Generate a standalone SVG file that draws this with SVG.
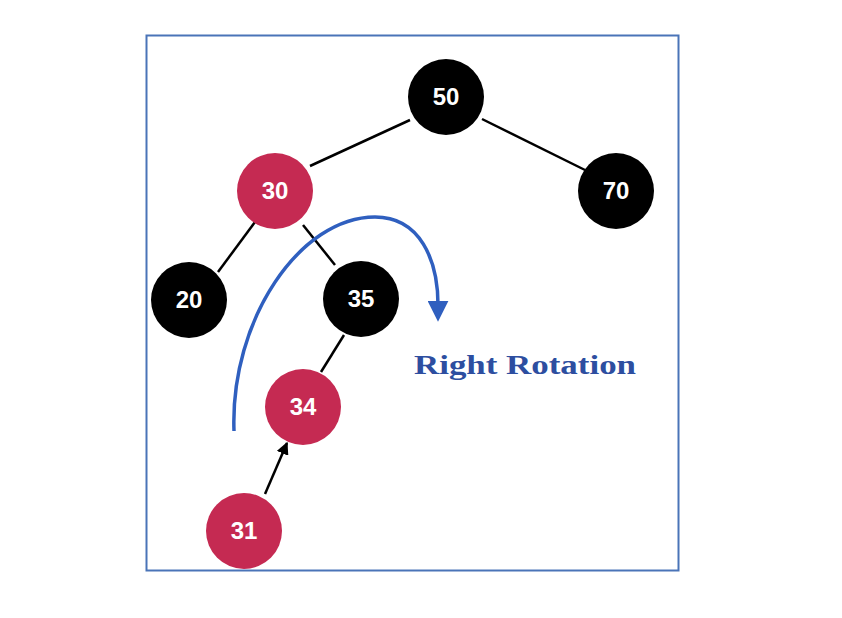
<svg xmlns="http://www.w3.org/2000/svg" width="842" height="618" viewBox="0 0 842 618">
<style>
.b{fill:#000}.r{fill:#c52a52}
.t{fill:#fff;font-family:"Liberation Sans",Arial,sans-serif;font-weight:bold;font-size:24px;text-anchor:middle}
.e{stroke:#000;stroke-width:2.5;fill:none}
</style>
<defs>
<marker id="ah" viewBox="0 0 10 10" refX="9" refY="5" markerWidth="5" markerHeight="5" orient="auto"><path d="M0,0L10,5L0,10z" fill="#000"/></marker>
<marker id="bh" viewBox="0 0 10 10" refX="2" refY="5" markerWidth="6" markerHeight="6" orient="auto"><path d="M0,0L10,5L0,10z" fill="#2f5fbf"/></marker>
</defs>
<rect x="146.500" y="35.500" width="532" height="535" fill="#fff" stroke="#4a74b8" stroke-width="2"/>
<g id="connectors">
<line class="e" x1="410" y1="120" x2="310" y2="166"/>
<line class="e" x1="482" y1="119" x2="585" y2="170"/>
<line class="e" x1="255" y1="222" x2="218" y2="272"/>
<line class="e" x1="303" y1="225" x2="335" y2="265"/>
<line class="e" x1="344" y1="335" x2="321" y2="372"/>
<line class="e" stroke-width="3.5" x1="265" y1="494" x2="287" y2="443" marker-end="url(#ah)"/>
<path d="M234,431 C230,320 300,217 375,217 C420,217 438,260 438,305" fill="none" stroke="#2f5fbf" stroke-width="3.5" marker-end="url(#bh)"/>
</g>
<g id="n50"><circle class="b" cx="446" cy="97" r="38"/><text class="t" x="446" y="105">50</text></g>
<g id="n30"><circle class="r" cx="275" cy="191" r="38"/><text class="t" x="275" y="199">30</text></g>
<g id="n70"><circle class="b" cx="616" cy="191" r="38"/><text class="t" x="616" y="199">70</text></g>
<g id="n20"><circle class="b" cx="189" cy="300" r="38"/><text class="t" x="189" y="308">20</text></g>
<g id="n35"><circle class="b" cx="361" cy="299" r="38"/><text class="t" x="361" y="307">35</text></g>
<g id="n34"><circle class="r" cx="303" cy="407" r="38"/><text class="t" x="303" y="415">34</text></g>
<g id="n31"><circle class="r" cx="244" cy="531" r="38"/><text class="t" x="244" y="539">31</text></g>
<text x="414" y="374" font-family="Liberation Serif,serif" font-weight="bold" font-size="28" fill="#2d4ea0" textLength="222" lengthAdjust="spacingAndGlyphs">Right Rotation</text>
</svg>
